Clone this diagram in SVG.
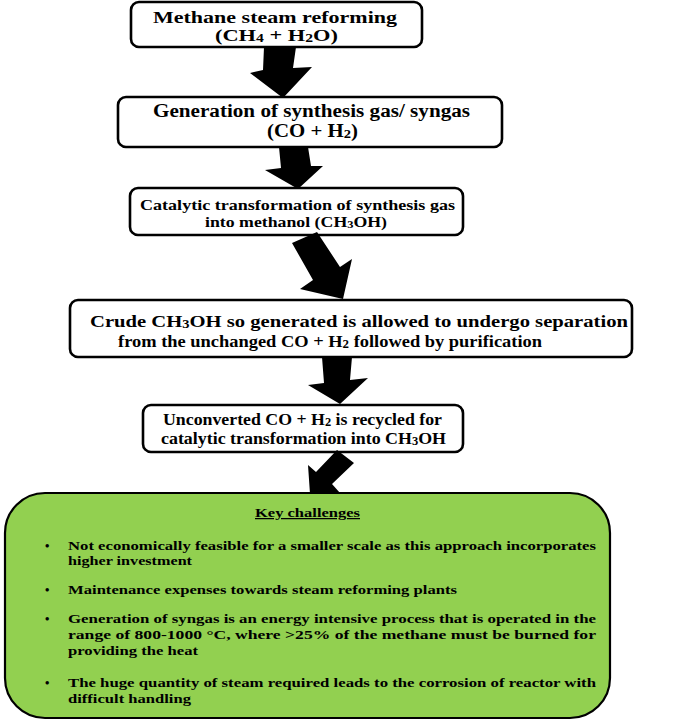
<svg xmlns="http://www.w3.org/2000/svg" width="685" height="721" viewBox="0 0 685 721">
<style>
.box{fill:#fff;stroke:#000;stroke-width:2.6}
.green{fill:#92D050;stroke:#000;stroke-width:2.2}
.t{font-family:"Liberation Serif","Times New Roman",serif;font-weight:bold;fill:#000}
.arrow{fill:#000;stroke:none}
.sub{font-size:70%}
</style>
<rect width="685" height="721" fill="#fff"/>
<g id="node1">
<rect class="box" x="131" y="2" width="291" height="45" rx="8"/>
<text class="t" font-size="16.5" x="153" y="23" textLength="244" lengthAdjust="spacingAndGlyphs">Methane steam reforming</text>
<text class="t" font-size="16.5" x="215" y="41" textLength="123" lengthAdjust="spacingAndGlyphs">(CH<tspan class="sub" dy="1">4</tspan><tspan dy="-1"> + H</tspan><tspan class="sub" dy="1">2</tspan><tspan dy="-1">O)</tspan></text>
</g>
<g id="node2">
<rect class="box" x="118" y="97" width="384" height="50" rx="8"/>
<text class="t" font-size="18" x="153" y="117" textLength="317" lengthAdjust="spacingAndGlyphs">Generation of synthesis gas/ syngas</text>
<text class="t" font-size="18" x="267" y="137" textLength="91" lengthAdjust="spacingAndGlyphs">(CO + H<tspan class="sub" dy="1">2</tspan><tspan dy="-1">)</tspan></text>
</g>
<g id="node3">
<rect class="box" x="130" y="188" width="333" height="47" rx="8"/>
<text class="t" font-size="15.5" x="140" y="210" textLength="315" lengthAdjust="spacingAndGlyphs">Catalytic transformation of synthesis gas</text>
<text class="t" font-size="15.5" x="205" y="227" textLength="182" lengthAdjust="spacingAndGlyphs">into methanol (CH<tspan class="sub" dy="1">3</tspan><tspan dy="-1">OH)</tspan></text>
</g>
<g id="node4">
<rect class="box" x="70" y="300" width="562" height="57" rx="8"/>
<text class="t" font-size="17.5" x="90" y="327" textLength="538" lengthAdjust="spacingAndGlyphs">Crude CH<tspan class="sub" dy="1">3</tspan><tspan dy="-1">OH so generated is allowed to undergo separation</tspan></text>
<text class="t" font-size="17.5" x="118" y="347" textLength="424" lengthAdjust="spacingAndGlyphs">from the unchanged CO + H<tspan class="sub" dy="1">2</tspan><tspan dy="-1"> followed by purification</tspan></text>
</g>
<g id="node5">
<rect class="box" x="143" y="405" width="320" height="47" rx="8"/>
<text class="t" font-size="17" x="163" y="425" textLength="279" lengthAdjust="spacingAndGlyphs">Unconverted CO + H<tspan class="sub" dy="1">2</tspan><tspan dy="-1"> is recycled for</tspan></text>
<text class="t" font-size="17" x="161" y="444" textLength="285" lengthAdjust="spacingAndGlyphs">catalytic transformation into CH<tspan class="sub" dy="1">3</tspan><tspan dy="-1">OH</tspan></text>
</g>
<g id="node6">
<rect class="green" x="5" y="493" width="605" height="225" rx="40"/>
<text class="t" font-size="12.5" x="255" y="517" textLength="105" lengthAdjust="spacingAndGlyphs" text-decoration="underline">Key challenges</text>
<g class="t" font-size="12.5">
<text x="45" y="550">•</text>
<text x="68" y="550" textLength="528" lengthAdjust="spacingAndGlyphs">Not economically feasible for a smaller scale as this approach incorporates</text>
<text x="68" y="565" textLength="124" lengthAdjust="spacingAndGlyphs">higher investment</text>
<text x="45" y="594">•</text>
<text x="68" y="594" textLength="389" lengthAdjust="spacingAndGlyphs">Maintenance expenses towards steam reforming plants</text>
<text x="45" y="623">•</text>
<text x="68" y="623" textLength="528" lengthAdjust="spacingAndGlyphs">Generation of syngas is an energy intensive process that is operated in the</text>
<text x="68" y="639" textLength="528" lengthAdjust="spacingAndGlyphs">range of 800-1000 °C, where &gt;25% of the methane must be burned for</text>
<text x="68" y="655" textLength="130" lengthAdjust="spacingAndGlyphs">providing the heat</text>
<text x="45" y="687">•</text>
<text x="68" y="687" textLength="528" lengthAdjust="spacingAndGlyphs">The huge quantity of steam required leads to the corrosion of reactor with</text>
<text x="68" y="703" textLength="123" lengthAdjust="spacingAndGlyphs">difficult handling</text>
</g>
</g>
<g id="connectors">
<polygon class="arrow" points="264,47 296,47 293,68 312,67 283,98 250,73 263,70"/>
<polygon class="arrow" points="279,147 308,147 311,166 323,166 298,189 265,170 281,168"/>
<polygon class="arrow" points="292,243 317,232 340,267 352,259 343,299 300,289 313,280"/>
<polygon class="arrow" points="322,357 352,357 350,380 368,378 340,404 308,385 324,383"/>
<polygon class="arrow" points="337,450 354,463 332,484 340,493 310,494 308,465 316,472"/>
</g>
</svg>
